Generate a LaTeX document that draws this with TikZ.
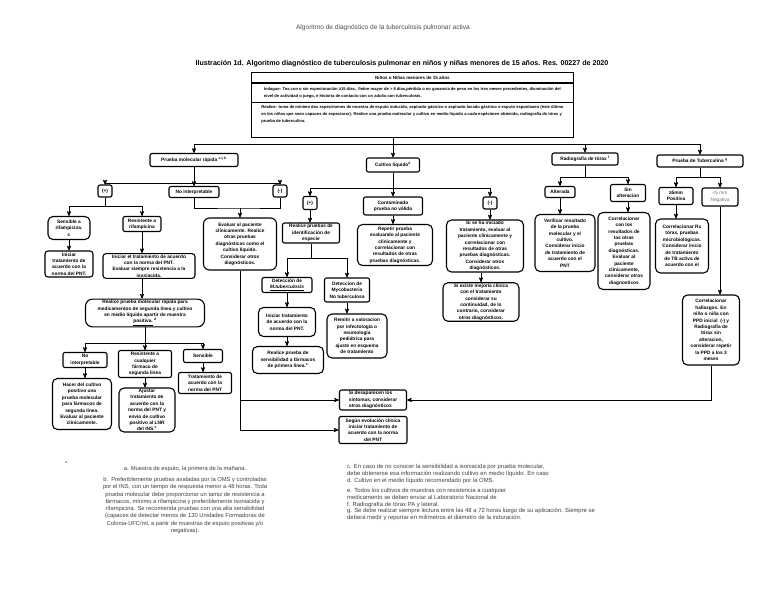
\documentclass[tikz,border=0pt]{standalone}
\usepackage{fontspec}
\setmainfont{Liberation Sans}
\usetikzlibrary{arrows}

\newcommand{\boxfont}{\fontsize{4.8}{6.4}\selectfont\bfseries}
\newcommand{\headfont}{\fontsize{4.1}{7}\selectfont\bfseries}
\newcommand{\notefont}{\fontsize{5.8}{7.3}\selectfont}

\begin{document}
\begin{tikzpicture}[x=1pt,y=-1pt,>=stealth',
  tag node/.style={draw,fill=white,rounded corners=2pt,line width=1.1pt,inner sep=1pt,align=center,font=\boxfont},
  text node/.style={tag node,rounded corners=5pt},
  wh/.style 2 args={minimum width=#1pt,minimum height=#2pt},
  row node/.style={draw,line width=0.8pt,anchor=north west,minimum width=322pt,inner xsep=4pt,inner ysep=1pt,align=left,font=\headfont},
  note node/.style={font=\notefont,text=black!75,inner sep=0pt},
  trans/.style={->,line width=0.7pt}]

  \path[fill=white,use as bounding box] (0,0) rectangle (768,594);

  % titles
  \node[font=\fontsize{6.6}{7}\selectfont,text=black!70] (sub) at (383,28) {Algoritmo de diagnóstico de la tuberculosis pulmonar activa};
  \node[font=\fontsize{7.1}{8}\selectfont\bfseries] (title) at (402,64) {Ilustración 1d. Algoritmo diagnóstico de tuberculosis pulmonar en niños y niñas menores de 15 años. Res. 00227 de 2020};

  % header box
  \node[row node,align=center,minimum height=10pt,font=\fontsize{4.5}{5}\selectfont\bfseries] (h1) at (251,72) {Niños o Niñas menores de 15 años};
  \node[row node,minimum height=19pt] (h2) at (h1.south west) {Indague: Tos con o sin expectoración ≥15 días,~ fiebre mayor de > 8 días,pérdida o no ganancia de peso en los tres meses precedentes, disminución del\\ nivel de actividad o juego, e historia de contacto con un adulto con tuberculosis.};
  \node[row node,draw=none,minimum height=22pt] (h3) at (h2.south west) {Realice: toma de mínimo dos especímenes de muestra de esputo inducido, aspirado gástrico o aspirado-lavado gástrico o esputo espontaneo (éste último\\ en los niños que sean capaces de expectorar). Realice una prueba molecular y cultivo en medio líquido a cada espécimen obtenido, radiografía de tórax y\\ prueba de tuberculina.};
  \coordinate (h4) at (393,137);
  \draw[line width=0.8pt] (h2.south west) rectangle (h2.east |- h4);

  % prueba molecular
  \node[tag node,wh={88}{13}] (1) at (194,160) {Prueba molecular rápida \textsuperscript{a y b}};
  \node[tag node,wh={14}{12}] (2) at (105,191) {(+)};
  \node[tag node,wh={50}{11}] (3) at (194,192) {No interpretable};
  \node[tag node,wh={14}{12}] (4) at (280,191) {(-)};
  \node[text node,wh={42}{23}] (5) at (69,228) {Sensible a\\ rifampicina.\\ c};
  \node[tag node,wh={38}{15}] (6) at (142,224) {Resistente a\\ rifampicina};
  \node[text node,rounded corners=3pt,wh={48}{26}] (7) at (69,264) {Iniciar\\ tratamiento de\\ acuerdo con la\\ norma del PNT.};
  \node[text node,rounded corners=3pt,wh={92}{23}] (8) at (149,266) {Iniciar el tratamiento de acuerdo\\ con la norma del PNT.\\ Evaluar siempre resistencia a la\\ isoniacida.};
  \node[text node,rounded corners=6pt,wh={73}{52}] (9) at (240,244) {Evaluar al paciente\\ clínicamente. Realice\\ otras pruebas\\ diagnósticas como el\\ cultivo líquido.\\ Considerar otros\\ diagnósticos.};
  \node[text node,rounded corners=7pt,wh={119}{26}] (10) at (145,313) {Realice prueba molecular rápida para\\ medicamentos de segunda línea y cultivo\\ en medio líquido apartir de muestra\\ \underline{positiva.} \textsuperscript{d}};
  \node[tag node,wh={44}{15}] (11) at (85,360) {No\\ interpretable};
  \node[tag node,wh={53}{27}] (12) at (145,364) {Resistente a\\ cualquier\\ fármaco de\\ segunda línea};
  \node[tag node,wh={39}{13}] (13) at (203,356) {Sensible};
  \node[tag node,wh={53}{21}] (14) at (205,383) {Tratamiento de\\ acuerdo con la\\ norma del PNT};
  \node[text node,wh={59}{51}] (15) at (82,404) {Hacer del cultivo\\ positivo una\\ prueba molecular\\ para fármacos de\\ segunda línea.\\ Evaluar al paciente\\ clínicamente.};
  \node[text node,wh={56}{44}] (16) at (147,410) {Ajustar\\ tratamiento de\\ acuerdo con la\\ norma del PNT y\\ envío de cultivo\\ positivo al LNR\\ del INS.\textsuperscript{e}};

  % cultivo liquido
  \node[tag node,wh={53}{14}] (17) at (393,165) {Cultivo líquido\textsuperscript{d}};
  \node[tag node,wh={14}{13}] (18) at (310,203) {(+)};
  \node[tag node,wh={59}{18}] (19) at (393,206) {Contaminado\\ prueba no válida};
  \node[tag node,wh={14}{12}] (20) at (490,203) {(-)};
  \node[tag node,wh={57}{20}] (21) at (311,233) {Realice pruebas de\\ identificación de\\ especie};
  \node[text node,wh={75}{41}] (22) at (395,245) {Repetir prueba\\ evaluando al paciente\\ clínicamente y\\ correlacionar con\\ resultados de otras\\ pruebas diagnósticas.};
  \node[text node,wh={77}{52}] (23) at (485,246) {Si se ha iniciado\\ tratamiento, evaluar al\\ paciente clínicamente y\\ correlacionar con\\ resultados de otras\\ pruebas diagnósticas.\\ Considerar otros\\ diagnósticos.};
  \node[tag node,wh={50}{15}] (24) at (287,285) {Detección de\\ \underline{\textit{M.tuberculosis}}};
  \node[tag node,wh={45}{24}] (25) at (347,290) {Deteccion de\\ Mycobacteria\\ No tuberculosa};
  \node[text node,wh={57}{29}] (26) at (287,322) {Iniciar tratamiento\\ de acuerdo con la\\ norma del PNT.};
  \node[text node,wh={71}{27}] (27) at (288,360) {Realice prueba de\\ sensibilidad a fármacos\\ de primera línea.\textsuperscript{e}};
  \node[text node,wh={60}{44}] (28) at (357,336) {Remitir a valoracion\\ por infectología o\\ neumología\\ pediátrica para\\ ajuste en esquema\\ de tratamiento};
  \node[text node,wh={76}{38}] (29) at (481,302) {Si existe mejoría clínica\\ con el tratamiento\\ considerar su\\ continuidad, de lo\\ contrario, considerar\\ otros diagnósticos.};
  \node[tag node,align=left,wh={67}{20}] (30) at (373,400) {Si desaparecen los\\ síntomas, considerar\\ otros diagnósticos};
  \node[tag node,wh={68}{27}] (31) at (373,430) {Según evolución clínica\\ iniciar tratamiento de\\ acuerdo con la norma\\ del PNT};

  % radiografia
  \node[tag node,wh={66}{12}] (32) at (585,159) {Radiografía de tórax \textsuperscript{f}};
  \node[tag node,wh={30}{11}] (33) at (560,192) {Alterada};
  \node[tag node,wh={35}{17}] (34) at (628,193) {Sin\\ alteracion};
  \node[text node,wh={60}{57}] (35) at (565,243) {Verificar resultado\\ de la prueba\\ molecular y el\\ cultivo.\\ Considerar inicio\\ de tratamiento de\\ acuerdo con el\\ PNT};
  \node[text node,wh={52}{77}] (36) at (624,251) {Correlacionar\\ con los\\ resultados de\\ las otras\\ pruebas\\ diagnósticas.\\ Evaluar al\\ paciente\\ clínicamente,\\ considerar otros\\ diagnosticos};

  % tuberculina
  \node[tag node,wh={86}{12}] (37) at (700,161) {Prueba de Tuberculina \textsuperscript{g}};
  \node[tag node,wh={34}{17}] (38) at (676,196) {≥5mm\\ Positiva};
  \node[tag node,wh={36}{18},font=\fontsize{4.8}{6.4}\selectfont,text=black!55] (39) at (720,197) {<5 mm\\ Negativa};
  \node[text node,wh={53}{54}] (40) at (682,246) {Correlacionar Rx\\ tórax, pruebas\\ microbiológicas.\\ Considerar inicio\\ de tratamiento\\ de TB activa de\\ acuerdo con el};
  \node[text node,wh={57}{70}] (41) at (711,330) {Correlacionar\\ hallazgos. En\\ niño o niña con\\ PPD inicial ~(-) y\\ Radiografía de\\ tórax sin\\ alteracion,\\ considerar repetir\\ la PPD a los 3\\ meses};

  % connectors
  \coordinate (bus) at (393,144);
  \coordinate (m1) at (240,208);
  \draw[trans] (h4) -- (17);
  \draw[trans] (bus) -| (1.north);
  \draw[trans] (bus) -| (32.north);
  \draw[trans] (bus) -| (37.north);
  \draw[trans] (1.south) -- ++(0,16) -| (2.north);
  \draw[trans] (1.south) -- ++(0,16) -| (4.north);
  \draw[trans] (2.south) -- ++(0,9) -| (5.north);
  \draw[trans] (2.south) -- ++(0,9) -| (6.north);
  \draw[line width=0.7pt] (3.south) |- (m1) -| (4.south);
  \draw[trans] (9.south) |- (30.west);
  \draw[trans] (9.south) |- (31.west);
  \draw[trans] (10.south) -- ++(0,16) -| (11.north);
  \draw[trans] (10.south) -- ++(0,16) -| (13.north);
  \draw[trans] (17.south) -- ++(0,16) -| (18.north);
  \draw[trans] (17.south) -- ++(0,16) -| (20.north);
  \draw[trans] (21.south) -- ++(0,15) -| (24.north);
  \draw[trans] (21.south) -- ++(0,15) -| (25.north);
  \draw[trans] (32.south) -- ++(0,12) -| (33.north);
  \draw[trans] (32.south) -- ++(0,12) -| (34.north);
  \draw[trans] (37.south) -- ++(0,10) -| (38.north);
  \draw[trans] (37.south) -- ++(0,10) -| (39.north);
  \draw[trans] (41.south) |- (30.east);

  \path[trans]
    (1) edge (3)
    (m1) edge (9)
    (5) edge (7)
    (6) edge (6 |- 8.north)
    (8.south -| 6) edge (6 |- 10.north)
    (10) edge (12)
    (11) edge (11 |- 15.north)
    (12) edge (12 |- 16.north)
    (13) edge (13 |- 14.north)
    (17) edge (19)
    (18) edge (18 |- 21.north)
    (19) edge (19 |- 22.north)
    (20) edge (20 |- 23.north)
    (24) edge (26)
    (26) edge (26 |- 27.north)
    (25) edge (25 |- 28.north)
    (29 |- 23.south) edge (29)
    (33) edge (33 |- 35.north)
    (34) edge (34 |- 36.north)
    (38) edge (38 |- 40.north)
    (39) edge (39 |- 41.north);

  % notes
  \fill[red!80] (66,462) circle (0.8);
  \node[note node] (na) at (185,469) {a. Muestra de esputo, la primera de la mañana.};
  \node[note node,align=center,anchor=north] (nb) at (185,477) {b.~~Preferiblemente pruebas avaladas por la OMS y controladas\\ por el INS, con un tiempo de respuesta menor a 48 horas. Toda\\ prueba molecular debe proporcionar un tamiz de resistencia a\\ fármacos, mínimo a rifampicina y preferiblemente isoniacida y\\ rifampicina. Se recomienda pruebas con una alta sensibilidad\\ (capaces de detectar menos de 130 Unidades Formadoras de\\ Colonia-UFC/ml, a partir de muestras de esputo positivas y/o\\ negativas).};
  \node[note node,align=left,anchor=north west,font=\fontsize{5.9}{6.9}\selectfont] (nc) at (347,464) {c. En caso de no conocer la sensibilidad a isoniacida por prueba molecular,\\ debe obtenerse esa información realizando cultivo en medio líquido. En caso\\ d. Cultivo en el medio líquido recomendado por la OMS.};
  \node[note node,align=left,anchor=north west,font=\fontsize{5.9}{6.9}\selectfont] (ne) at (347,488) {e. Todos los cultivos de muestras con resistencia a cualquier\\ medicamento se deben enviar al Laboratorio Nacional de\\ f. Radiografía de tórax PA y lateral.};
  \node[note node,align=left,anchor=north west,font=\fontsize{5.9}{6.9}\selectfont] (ng) at (347,508) {g. Se debe realizar siempre lectura entre las 48 a 72 horas luego de su aplicación. Siempre se\\ deberá medir y reportar en milímetros el diámetro de la induración.};
\end{tikzpicture}
\end{document}
